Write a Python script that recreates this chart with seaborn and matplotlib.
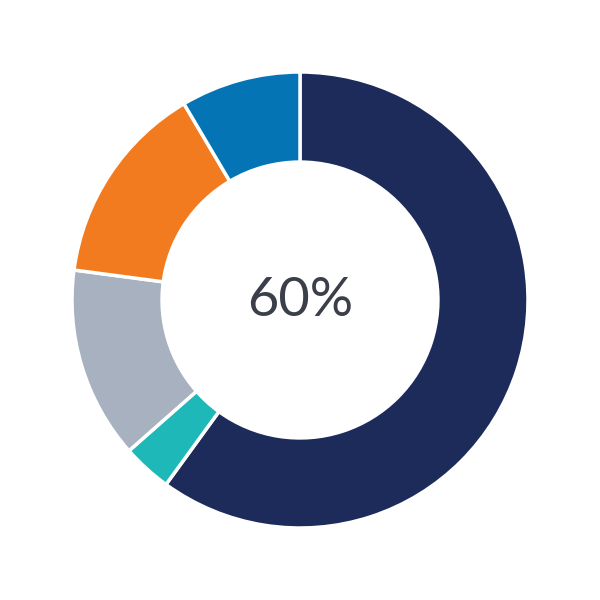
## IMPORTING LIBRARIES AND SETTING PARAMETERS
import seaborn as sns
from matplotlib import pyplot as plt

sns.set_theme(style='white')
plt.rcParams['font.family'] = ['Lato', 'DejaVu Sans']

## data, clockwise from 12 o'clock
labels = ["Navy", "Teal", "Gray", "Orange", "Blue"]
shares = [60, 3.5, 13.6, 14.4, 8.5]
colors = ["#1c2b59", "#1fb8b8", "#a7b1bf", "#f27b20", "#0474b5"]
center_label = "60%"

fig = plt.figure(figsize=(6, 6), dpi=100)
ax = fig.add_axes([0, 0, 1, 1])
ax.pie(shares, colors=colors, startangle=90, counterclock=False,
       radius=1, wedgeprops=dict(width=0.395, edgecolor='white', linewidth=2.5))
ax.text(0, 0, center_label, ha='center', va='center', fontsize=39,
        fontweight='normal', color='#3a3f4a')
lim = 300 / 228
ax.set_xlim(-lim, lim)
ax.set_ylim(-lim, lim)
ax.set_aspect('equal')
ax.axis('off')

plt.savefig("out.png", dpi=100)
